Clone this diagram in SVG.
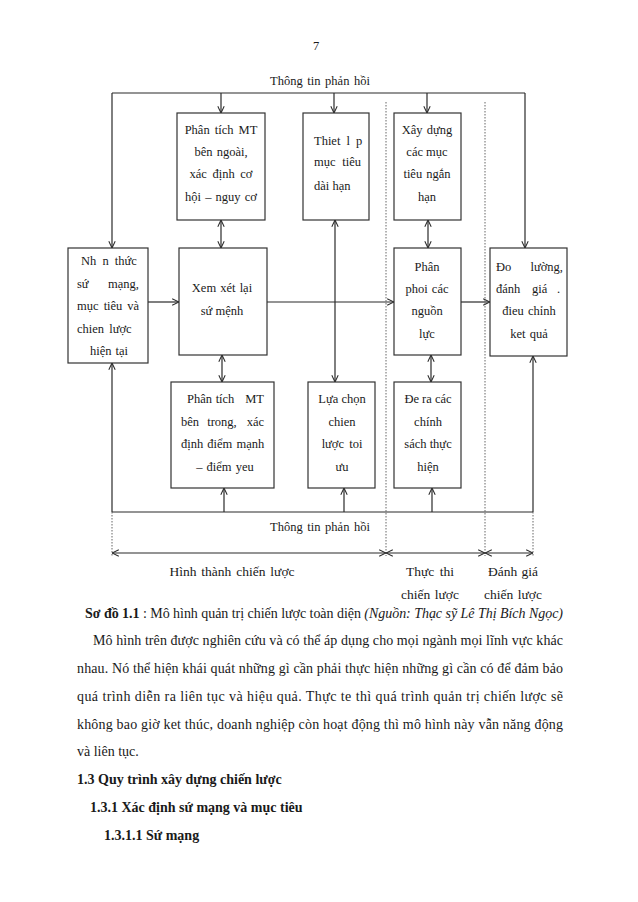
<svg xmlns="http://www.w3.org/2000/svg" width="638" height="902" viewBox="0 0 638 902">
<style>
text{font-family:"Liberation Serif","Times New Roman",serif;fill:#1a1a1a}
.b{font-size:12.5px}
.l{font-size:13.5px}
.m{text-anchor:middle}
.e{text-anchor:end}
.p{font-size:14px}
.h{font-size:14px;font-weight:bold}
.box{fill:#fff;stroke:#333;stroke-width:1.2}
.ln{fill:none;stroke:#2a2a2a;stroke-width:1.2}
.a{marker-end:url(#ah)}
.d{marker-start:url(#ah);marker-end:url(#ah)}
.dot{fill:none;stroke:#555;stroke-width:0.9;stroke-dasharray:1.5 1.5}
</style>
<defs>
<marker id="ah" viewBox="0 0 10 10" refX="9.5" refY="5" markerWidth="8" markerHeight="8" markerUnits="userSpaceOnUse" orient="auto-start-reverse">
<path d="M1,1 L9.5,5 L1,9" fill="none" stroke="#2a2a2a" stroke-width="1.3"/>
</marker>
</defs>
<rect width="638" height="902" fill="#fff"/>
<text class="b m" x="316" y="50">7</text>

<g id="connectors">
<text class="b m" x="320" y="85" word-spacing="1.5">Thông tin phản hồi</text>
<path class="ln" d="M112,93 H525"/>
<path class="ln a" d="M112,93 V248"/>
<path class="ln a" d="M525,93 V248"/>
<path class="ln a" d="M221,93 V113"/>
<path class="ln a" d="M334,93 V113"/>
<path class="ln a" d="M427,93 V113"/>
<path class="ln d" d="M221,220 V248"/>
<path class="ln d" d="M335,220 V382"/>
<path class="ln d" d="M428,220 V248"/>
<path class="ln a" d="M148,302 H179"/>
<path class="ln a" d="M267,302 H394"/>
<path class="ln a" d="M461,302 H490"/>
<path class="ln d" d="M222,355 V382"/>
<path class="ln d" d="M431,355 V382"/>
<path class="ln" d="M112,512 H533"/>
<path class="ln a" d="M112,512 V363"/>
<path class="ln a" d="M533,512 V356"/>
<path class="ln a" d="M224,512 V488"/>
<path class="ln a" d="M344,512 V488"/>
<path class="ln a" d="M432,512 V488"/>
<path class="dot" d="M386,102 V556 M485,102 V556 M112,512 V556 M533,512 V556"/>
<path class="ln d" d="M112,553 H386"/>
<path class="ln d" d="M386,553 H485"/>
<path class="ln d" d="M485,553 H533"/>
<text class="b m" x="320" y="531" word-spacing="1.5">Thông tin phản hồi</text>
<text class="l m" x="232" y="576" word-spacing="1.5">Hình thành chiến lược</text>
<text class="l m" x="430" y="576" word-spacing="2">Thực thi</text>
<text class="l m" x="430" y="599" word-spacing="1">chiến lược</text>
<text class="l m" x="513" y="576" word-spacing="1">Đánh giá</text>
<text class="l m" x="513" y="599" word-spacing="1">chiến lược</text>
</g>

<g id="n-nhanthuc">
<rect class="box" x="68" y="248" width="80" height="115"/>
<text class="b" x="81" y="265" word-spacing="3">Nh n thức</text>
<text class="b" x="77" y="288">sứ</text><text class="b e" x="139" y="288">mạng,</text>
<text class="b" x="77" y="310">mục</text><text class="b m" x="113" y="310">tiêu</text><text class="b e" x="139" y="310">và</text>
<text class="b" x="77" y="333" word-spacing="2">chien lược</text>
<text class="b m" x="109" y="355" word-spacing="1">hiện tại</text>
</g>

<g id="n-ngoai">
<rect class="box" x="177" y="113" width="88" height="107"/>
<text class="b m" x="221" y="134" word-spacing="2">Phân tích MT</text>
<text class="b m" x="221" y="156" word-spacing="1">bên ngoài,</text>
<text class="b m" x="221" y="178" word-spacing="2.5">xác định cơ</text>
<text class="b m" x="221" y="201" word-spacing="1">hội – nguy cơ</text>
</g>

<g id="n-thietlap">
<rect class="box" x="303" y="113" width="66" height="107"/>
<text class="b" x="314" y="145" word-spacing="3">Thiet l p</text>
<text class="b" x="314" y="166">mục</text><text class="b e" x="361" y="166">tiêu</text>
<text class="b" x="314" y="190">dài hạn</text>
</g>

<g id="n-xaydung">
<rect class="box" x="394" y="113" width="67" height="107"/>
<text class="b m" x="427" y="134" word-spacing="1">Xây dựng</text>
<text class="b m" x="427" y="156">các mục</text>
<text class="b m" x="427" y="178" word-spacing="1">tiêu ngắn</text>
<text class="b m" x="427" y="201">hạn</text>
</g>

<g id="n-xemxet">
<rect class="box" x="179" y="248" width="88" height="107"/>
<text class="b m" x="222" y="292" word-spacing="1">Xem xét lại</text>
<text class="b m" x="222" y="315">sứ mệnh</text>
</g>

<g id="n-phanphoi">
<rect class="box" x="394" y="248" width="67" height="107"/>
<text class="b m" x="427" y="271">Phân</text>
<text class="b m" x="427" y="293" word-spacing="1">phoi các</text>
<text class="b m" x="427" y="315">nguồn</text>
<text class="b m" x="427" y="338">lực</text>
</g>

<g id="n-doluong">
<rect class="box" x="490" y="248" width="77" height="108"/>
<text class="b" x="496" y="271">Đo</text><text class="b e" x="563" y="271">lường,</text>
<text class="b" x="496" y="293">đánh</text><text class="b" x="532" y="293">giá</text><text class="b e" x="560" y="293">.</text>
<text class="b m" x="529" y="315" word-spacing="1">đieu chỉnh</text>
<text class="b m" x="529" y="338" word-spacing="1">ket quả</text>
</g>

<g id="n-bentrong">
<rect class="box" x="171" y="382" width="103" height="106"/>
<text class="b" x="187" y="403">Phân</text><text class="b m" x="225" y="403">tích</text><text class="b e" x="264" y="403">MT</text>
<text class="b" x="181" y="426">bên</text><text class="b m" x="222" y="426">trong,</text><text class="b e" x="264" y="426">xác</text>
<text class="b" x="181" y="448" word-spacing="1">định điểm mạnh</text>
<text class="b m" x="225" y="471" word-spacing="1">– điểm yeu</text>
</g>

<g id="n-luachon">
<rect class="box" x="308" y="382" width="67" height="106"/>
<text class="b m" x="342" y="403">Lựa chọn</text>
<text class="b m" x="342" y="426">chien</text>
<text class="b m" x="342" y="448" word-spacing="2">lược toi</text>
<text class="b m" x="342" y="471">ưu</text>
</g>

<g id="n-dera">
<rect class="box" x="394" y="382" width="67" height="106"/>
<text class="b m" x="428" y="403">Đe ra các</text>
<text class="b m" x="428" y="426">chính</text>
<text class="b m" x="428" y="448">sách thực</text>
<text class="b m" x="428" y="471">hiện</text>
</g>

<g id="caption">
<text class="p" x="85" y="618" textLength="478" lengthAdjust="spacing"><tspan font-weight="bold">Sơ đồ 1.1</tspan> : Mô hình quản trị chiến lược toàn diện <tspan font-style="italic">(Nguồn: Thạc sỹ Lê Thị Bích Ngọc)</tspan></text>
<text class="p" x="93" y="645" textLength="470" lengthAdjust="spacing">Mô hình trên được nghiên cứu và có thể áp dụng cho mọi ngành mọi lĩnh vực khác</text>
<text class="p" x="77" y="673" textLength="486" lengthAdjust="spacing">nhau. Nó thể hiện khái quát những gì cần phải thực hiện những gì cần có để đảm bảo</text>
<text class="p" x="77" y="701" textLength="486" lengthAdjust="spacing">quá trình diễn ra liên tục và hiệu quả. Thực te thì quá trình quản trị chiến lược sẽ</text>
<text class="p" x="77" y="729" textLength="486" lengthAdjust="spacing">không bao giờ ket thúc, doanh nghiệp còn hoạt động thì mô hình này vẫn năng động</text>
<text class="p" x="77" y="756">và liên tục.</text>
<text class="h" x="77" y="784">1.3 Quy trình xây dựng chiến lược</text>
<text class="h" x="90" y="812">1.3.1 Xác định sứ mạng và mục tiêu</text>
<text class="h" x="104" y="840">1.3.1.1 Sứ mạng</text>
</g>
</svg>
